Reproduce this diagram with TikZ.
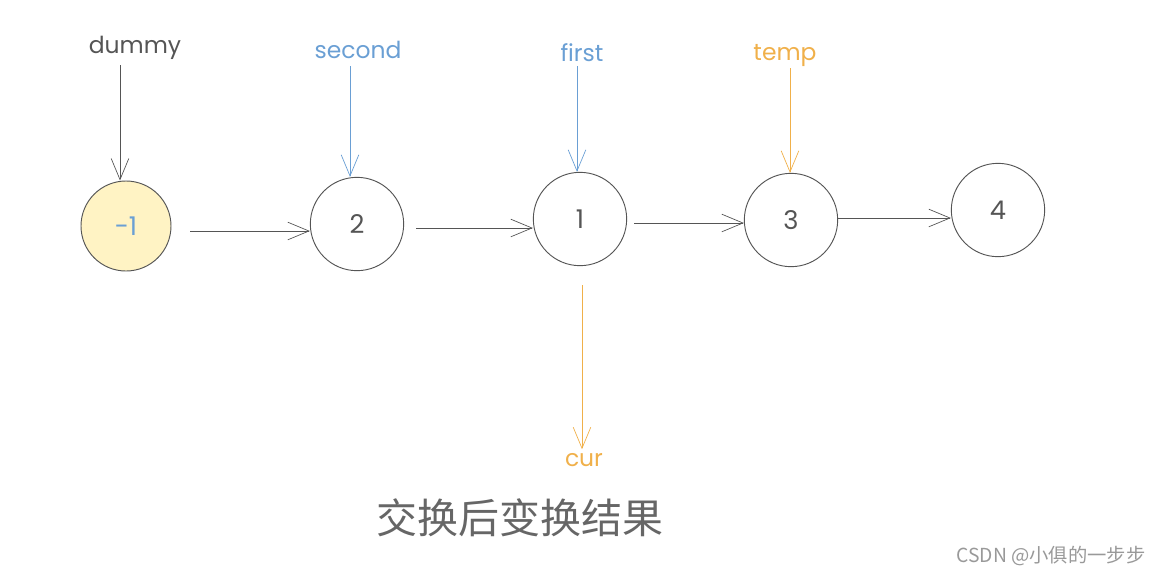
\documentclass[tikz,border=0pt]{standalone}
\usetikzlibrary{arrows.meta}
\usepackage{fontspec}
\setmainfont{Poppins}
\newfontfamily\cjk{Noto Sans CJK SC}
\definecolor{ink}{HTML}{555555}
\definecolor{blu}{HTML}{6A9FD4}
\definecolor{org}{HTML}{F0B04A}
\definecolor{yel}{HTML}{FFF3C4}
\begin{document}
\begin{tikzpicture}[x=0.03cm,y=-0.03cm,
  nd/.style={circle,draw=ink,thick,minimum size=2.8cm,font=\fontsize{22}{24}\selectfont,text=ink},
  lab/.style={font=\fontsize{20}{22}\selectfont},
  ar/.style={-{Straight Barb[length=18pt,width=15pt]},semithick}]
\useasboundingbox (0,0) rectangle (1162,576);
\node[nd,fill=yel,minimum size=2.7cm,text=blu] (m1) at (126,226) {-1};
\node[nd] (n2) at (357,224) {2};
\node[nd] (n1) at (580,219) {1};
\node[nd] (n3) at (791,220) {3};
\node[nd] (n4) at (998,210) {4};
\coordinate (a1) at (190,231);
\coordinate (a2) at (416,228);
\coordinate (a3) at (634,223);
\coordinate (a4) at (838,218);
\draw[ar,ink] (a1) -- (a1 -| n2.west);
\draw[ar,ink] (a2) -- (a2 -| n1.west);
\draw[ar,ink] (a3) -- (a3 -| n3.west);
\draw[ar,ink] (a4) -- (a4 -| n4.west);
\node[lab,text=ink] (ld) at (135,48) {dummy};
\node[lab,text=blu] (ls) at (358,50) {second};
\node[lab,text=blu] (lf) at (582,53) {first};
\node[lab,text=org] (lt) at (785,56) {temp};
\node[lab,text=org] (lc) at (584,460) {cur};
\coordinate (d0) at (120,65);
\coordinate (s0) at (350,66);
\coordinate (f0) at (577,66);
\coordinate (t0) at (790,68);
\coordinate (c0) at (582,285);
\draw[ar,ink] (d0) -- (d0 |- m1.north);
\draw[ar,blu] (s0) -- (s0 |- n2.north);
\draw[ar,blu] (f0) -- (f0 |- n1.north);
\draw[ar,org] (t0) -- (t0 |- n3.north);
\draw[ar,org] (c0) -- (c0 |- lc.north);
\node[font=\cjk\fontsize{35}{38}\selectfont,text=ink!90] (title) at (520,518) {交换后变换结果};
\node[font=\cjk\fontsize{16.5}{18}\selectfont,text=gray!80] (wm) at (1051,556) {CSDN @小俱的一步步};
\end{tikzpicture}
\end{document}
